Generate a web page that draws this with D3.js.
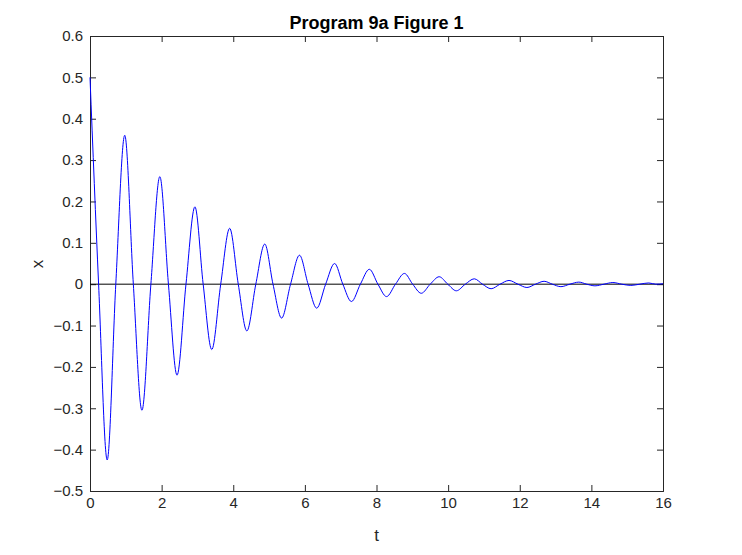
<!DOCTYPE html><html><head><meta charset="utf-8"><script src="https://cdn.jsdelivr.net/npm/d3@7"></script>
<style>body{margin:0;background:#fff}svg{font-family:Arial,"Liberation Sans",sans-serif}</style></head><body>
<script>
const tVals=[0,0.24,0.48,0.72,0.97,1.21,1.45,1.7,1.95,2.19,2.43,2.68,2.93,3.16,3.4,3.65,3.9,4.14,4.38,4.63,4.88,5.11,5.35,5.6,5.85,6.09,6.33,6.58,6.83,7.06,7.3,7.55,7.8,8.04,8.28,8.53,8.78,9.01,9.25,9.5,9.75,9.99,10.23,10.48,10.73,10.96,11.2,11.45,11.7,11.95,12.2,12.44,12.68,12.91,13.15,13.4,13.65,13.87,14.1,14.35,14.6,14.85,15.1,15.35,15.6,15.8,16];
const xVals=[0.5,0,-0.425,0,0.36,0,-0.305,0,0.26,0,-0.22,0,0.187,0,-0.158,0,0.135,0,-0.113,0,0.097,0,-0.082,0,0.07,0,-0.058,0,0.05,0,-0.042,0,0.036,0,-0.03,0,0.026,0,-0.022,0,0.018,0,-0.016,0,0.013,0,-0.011,0,0.009,0,-0.008,0,0.007,0,-0.006,0,0.005,0,-0.004,0,0.004,0,-0.003,0,0.003,0,0.001];
const xTicks=[0,2,4,6,8,10,12,14,16];
const yTicks=[-0.5,-0.4,-0.3,-0.2,-0.1,0,0.1,0.2,0.3,0.4,0.5,0.6];
const W=742,H=555,L=90,R=663,T=36,B=491;
const svg=d3.select("body").append("svg").attr("width",W).attr("height",H);
const x=d3.scaleLinear().domain([0,16]).range([L,R]);
const y=d3.scaleLinear().domain([-0.5,0.6]).range([B,T]);
const g=svg.append("g");
g.append("g").attr("transform",`translate(0,${B})`).call(d3.axisBottom(x).tickValues(xTicks).tickSize(-6).tickPadding(6).tickFormat(d3.format("d")));
g.append("g").attr("transform",`translate(0,${T})`).call(d3.axisTop(x).tickValues(xTicks).tickSize(-6).tickFormat(""));
g.append("g").attr("transform",`translate(${L},0)`).call(d3.axisLeft(y).tickValues(yTicks).tickSize(-6).tickPadding(7).tickFormat(d=>d===0?"0":d3.format(".1f")(d)));
g.append("g").attr("transform",`translate(${R},0)`).call(d3.axisRight(y).tickValues(yTicks).tickSize(-6).tickFormat(""));
svg.selectAll(".domain").attr("stroke","#262626");
svg.selectAll(".tick line").attr("stroke","#262626");
svg.selectAll(".tick text").attr("font-size",15).attr("fill","#262626");
svg.append("line").attr("x1",x(0)).attr("x2",x(16)).attr("y1",y(0)).attr("y2",y(0)).attr("stroke","#000");
const data=tVals.map((t,i)=>[t,xVals[i]]);
svg.append("path").datum(data).attr("fill","none").attr("stroke","#0000ff").attr("stroke-width",1)
 .attr("d",d3.line().x(d=>x(d[0])).y(d=>y(d[1])).curve(d3.curveMonotoneX));
svg.append("text").attr("x",(L+R)/2).attr("y",29).attr("text-anchor","middle").attr("font-weight","bold").attr("font-size",18).attr("fill","#000").text("Program 9a Figure 1");
svg.append("text").attr("x",(L+R)/2).attr("y",541).attr("text-anchor","middle").attr("font-size",17).attr("fill","#262626").text("t");
svg.append("text").attr("transform","translate(43,264) rotate(-90)").attr("text-anchor","middle").attr("font-size",17).attr("fill","#262626").text("x");
</script></body></html>
